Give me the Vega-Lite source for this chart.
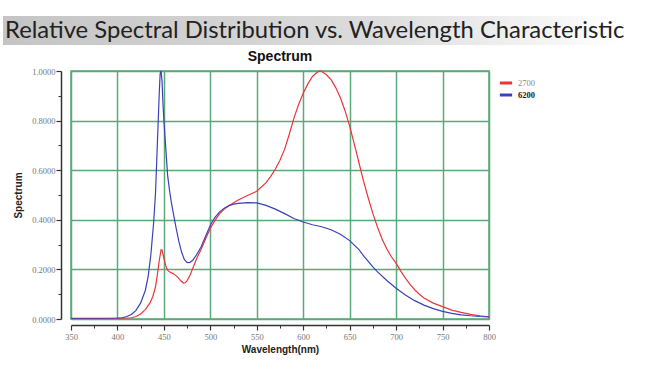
{
"$schema": "https://vega.github.io/schema/vega-lite/v6.json",
"background": "white",
"padding": {"left": 3, "top": 16, "right": 5, "bottom": 5},
"config": {"view": {"stroke": null}, "font": "Liberation Sans"},
"columns": 1,
"spacing": 4,
"resolve": {"scale": {"color": "independent"}, "legend": {"color": "independent"}},
"concat": [
{
 "width": 551, "height": 29,
 "view": {"stroke": null},
 "data": {"values": [{"t": "Relative Spectral Distribution vs. Wavelength Characteristic"}]},
 "layer": [
  {"mark": {"type": "rect", "color": {"gradient": "linear", "x1": 0, "x2": 1, "y1": 0, "y2": 0, "stops": [{"offset": 0, "color": "#c4c4c4"}, {"offset": 0.6, "color": "#dcdcdc"}, {"offset": 1, "color": "#ffffff"}]}},
   "encoding": {"x": {"datum": -0.12341, "type": "quantitative", "scale": {"domain": [0, 1]}, "axis": null}, "x2": {"datum": 1}}},
  {"mark": {"type": "text", "align": "left", "baseline": "middle", "font": "Lato", "fontSize": 23.8, "color": "#222222", "dx": 2},
   "encoding": {"x": {"datum": -0.12341, "type": "quantitative", "axis": null}, "text": {"field": "t"}}}
 ]
},
{
 "width": 418, "height": 248,
 "view": {"stroke": "#5aa97a", "strokeWidth": 1.5},
 "title": {"text": "Spectrum", "fontSize": 14, "fontWeight": "bold", "font": "Liberation Sans", "color": "#111111", "offset": 3, "anchor": "middle"},
 "data": {"values": [
{"w":350,"s":"2700","v":0.002},{"w":370,"s":"2700","v":0.002},{"w":390,"s":"2700","v":0.002},{"w":400,"s":"2700","v":0.003},{"w":405,"s":"2700","v":0.003},{"w":410,"s":"2700","v":0.004},{"w":415,"s":"2700","v":0.005},{"w":420,"s":"2700","v":0.01},{"w":425,"s":"2700","v":0.02},{"w":430,"s":"2700","v":0.038},{"w":435,"s":"2700","v":0.065},{"w":438,"s":"2700","v":0.09},{"w":441,"s":"2700","v":0.13},{"w":443,"s":"2700","v":0.18},{"w":445,"s":"2700","v":0.235},{"w":447,"s":"2700","v":0.28},{"w":448,"s":"2700","v":0.278},{"w":449,"s":"2700","v":0.262},{"w":450,"s":"2700","v":0.245},{"w":452,"s":"2700","v":0.215},{"w":454,"s":"2700","v":0.197},{"w":456,"s":"2700","v":0.19},{"w":458,"s":"2700","v":0.186},{"w":460,"s":"2700","v":0.183},{"w":462,"s":"2700","v":0.178},{"w":465,"s":"2700","v":0.168},{"w":468,"s":"2700","v":0.155},{"w":471,"s":"2700","v":0.145},{"w":473,"s":"2700","v":0.146},{"w":475,"s":"2700","v":0.155},{"w":478,"s":"2700","v":0.175},{"w":482,"s":"2700","v":0.213},{"w":486,"s":"2700","v":0.25},{"w":490,"s":"2700","v":0.28},{"w":495,"s":"2700","v":0.325},{"w":500,"s":"2700","v":0.365},{"w":505,"s":"2700","v":0.398},{"w":510,"s":"2700","v":0.425},{"w":515,"s":"2700","v":0.443},{"w":520,"s":"2700","v":0.457},{"w":530,"s":"2700","v":0.48},{"w":540,"s":"2700","v":0.498},{"w":550,"s":"2700","v":0.515},{"w":560,"s":"2700","v":0.55},{"w":565,"s":"2700","v":0.575},{"w":570,"s":"2700","v":0.605},{"w":575,"s":"2700","v":0.64},{"w":580,"s":"2700","v":0.685},{"w":585,"s":"2700","v":0.745},{"w":590,"s":"2700","v":0.81},{"w":595,"s":"2700","v":0.865},{"w":600,"s":"2700","v":0.91},{"w":605,"s":"2700","v":0.948},{"w":610,"s":"2700","v":0.978},{"w":615,"s":"2700","v":0.995},{"w":618,"s":"2700","v":1.0},{"w":620,"s":"2700","v":0.998},{"w":625,"s":"2700","v":0.985},{"w":630,"s":"2700","v":0.965},{"w":635,"s":"2700","v":0.933},{"w":640,"s":"2700","v":0.892},{"w":645,"s":"2700","v":0.84},{"w":650,"s":"2700","v":0.778},{"w":655,"s":"2700","v":0.705},{"w":660,"s":"2700","v":0.63},{"w":665,"s":"2700","v":0.555},{"w":670,"s":"2700","v":0.488},{"w":675,"s":"2700","v":0.425},{"w":680,"s":"2700","v":0.37},{"w":685,"s":"2700","v":0.322},{"w":690,"s":"2700","v":0.282},{"w":695,"s":"2700","v":0.25},{"w":700,"s":"2700","v":0.225},{"w":705,"s":"2700","v":0.193},{"w":710,"s":"2700","v":0.165},{"w":715,"s":"2700","v":0.14},{"w":720,"s":"2700","v":0.118},{"w":725,"s":"2700","v":0.1},{"w":730,"s":"2700","v":0.085},{"w":740,"s":"2700","v":0.064},{"w":750,"s":"2700","v":0.05},{"w":760,"s":"2700","v":0.036},{"w":770,"s":"2700","v":0.027},{"w":780,"s":"2700","v":0.019},{"w":790,"s":"2700","v":0.013},{"w":800,"s":"2700","v":0.009},
{"w":350,"s":"6200","v":0.003},{"w":370,"s":"6200","v":0.003},{"w":390,"s":"6200","v":0.003},{"w":400,"s":"6200","v":0.004},{"w":405,"s":"6200","v":0.005},{"w":410,"s":"6200","v":0.01},{"w":415,"s":"6200","v":0.018},{"w":420,"s":"6200","v":0.035},{"w":425,"s":"6200","v":0.065},{"w":430,"s":"6200","v":0.115},{"w":433,"s":"6200","v":0.17},{"w":436,"s":"6200","v":0.26},{"w":439,"s":"6200","v":0.39},{"w":441,"s":"6200","v":0.51},{"w":443,"s":"6200","v":0.71},{"w":445,"s":"6200","v":0.91},{"w":446,"s":"6200","v":0.99},{"w":447,"s":"6200","v":1.0},{"w":448,"s":"6200","v":0.96},{"w":449,"s":"6200","v":0.87},{"w":450,"s":"6200","v":0.8},{"w":452,"s":"6200","v":0.69},{"w":454,"s":"6200","v":0.58},{"w":456,"s":"6200","v":0.52},{"w":458,"s":"6200","v":0.47},{"w":460,"s":"6200","v":0.43},{"w":463,"s":"6200","v":0.37},{"w":466,"s":"6200","v":0.315},{"w":469,"s":"6200","v":0.27},{"w":472,"s":"6200","v":0.24},{"w":475,"s":"6200","v":0.227},{"w":478,"s":"6200","v":0.228},{"w":481,"s":"6200","v":0.237},{"w":485,"s":"6200","v":0.258},{"w":490,"s":"6200","v":0.29},{"w":495,"s":"6200","v":0.335},{"w":500,"s":"6200","v":0.378},{"w":505,"s":"6200","v":0.41},{"w":510,"s":"6200","v":0.432},{"w":515,"s":"6200","v":0.447},{"w":520,"s":"6200","v":0.457},{"w":525,"s":"6200","v":0.463},{"w":530,"s":"6200","v":0.466},{"w":540,"s":"6200","v":0.469},{"w":550,"s":"6200","v":0.468},{"w":560,"s":"6200","v":0.458},{"w":570,"s":"6200","v":0.443},{"w":580,"s":"6200","v":0.425},{"w":590,"s":"6200","v":0.405},{"w":600,"s":"6200","v":0.391},{"w":610,"s":"6200","v":0.38},{"w":620,"s":"6200","v":0.372},{"w":625,"s":"6200","v":0.366},{"w":630,"s":"6200","v":0.36},{"w":640,"s":"6200","v":0.342},{"w":650,"s":"6200","v":0.316},{"w":660,"s":"6200","v":0.28},{"w":665,"s":"6200","v":0.255},{"w":670,"s":"6200","v":0.232},{"w":675,"s":"6200","v":0.21},{"w":680,"s":"6200","v":0.19},{"w":690,"s":"6200","v":0.155},{"w":700,"s":"6200","v":0.124},{"w":710,"s":"6200","v":0.097},{"w":720,"s":"6200","v":0.074},{"w":730,"s":"6200","v":0.056},{"w":740,"s":"6200","v":0.042},{"w":750,"s":"6200","v":0.031},{"w":760,"s":"6200","v":0.023},{"w":770,"s":"6200","v":0.017},{"w":780,"s":"6200","v":0.013},{"w":790,"s":"6200","v":0.01},{"w":800,"s":"6200","v":0.008}
 ]},
 "layer": [
  {"mark": {"type": "line", "strokeWidth": 1.2},
   "encoding": {
    "x": {"field": "w", "type": "quantitative", "scale": {"domain": [350, 800], "nice": false, "zero": false},
      "axis": {"values": [350,400,450,500,550,600,650,700,750,800], "labelFlush": false, "grid": true, "gridColor": "#5aa97a", "gridWidth": 1.5, "gridOpacity": 1, "domainColor": "#333333", "domainWidth": 1.5, "offset": 6, "tickSize": 5, "tickColor": "#333333", "tickWidth": 1.2, "labelFont": "Liberation Serif", "labelFontSize": 8.5, "labelColor": "#777777", "labelPadding": 2, "title": "Wavelength(nm)", "titleFont": "Liberation Sans", "titleFontSize": 10, "titleFontWeight": "bold", "titleColor": "#222222", "titlePadding": 4}},
    "y": {"field": "v", "type": "quantitative", "scale": {"domain": [0, 1], "nice": false},
      "axis": {"values": [0,0.2,0.4,0.6,0.8,1], "format": ".4f", "labelFlush": false, "grid": true, "gridColor": "#5aa97a", "gridWidth": 1.5, "gridOpacity": 1, "domainColor": "#333333", "domainWidth": 1.5, "offset": 10, "tickSize": 5, "tickColor": "#333333", "tickWidth": 1.2, "labelFont": "Liberation Serif", "labelFontSize": 8.5, "labelColor": "#777777", "labelPadding": 1, "title": "Spectrum", "titleFont": "Liberation Sans", "titleFontSize": 10, "titleFontWeight": "bold", "titleColor": "#222222", "titlePadding": 8}},
    "color": {"field": "s", "type": "nominal", "scale": {"domain": ["2700", "6200"], "range": ["#e8363b", "#3a42b8"]},
      "legend": {"orient": "right", "offset": 0, "padding": 6, "title": null, "symbolType": "stroke", "symbolStrokeWidth": 3, "symbolSize": 150, "labelFont": "Liberation Serif", "labelFontSize": 8.5, "labelColor": {"expr": "datum.value === '6200' ? '#222222' : '#888888'"}, "labelFontWeight": {"expr": "datum.value === '6200' ? 'bold' : 'normal'"}, "clipHeight": 12, "rowPadding": 0, "labelOffset": 4}}
   }},
  {"mark": {"type": "line", "strokeOpacity": 0},
   "encoding": {
    "x": {"field": "w", "type": "quantitative", "axis": {"orient": "bottom", "values": [375,425,475,525,575,625,675,725,775], "labels": false, "grid": false, "domain": false, "offset": 6, "tickSize": 3, "tickColor": "#333333", "title": null}},
    "y": {"field": "v", "type": "quantitative", "axis": {"orient": "left", "values": [0.1,0.3,0.5,0.7,0.9], "labels": false, "grid": false, "domain": false, "offset": 10, "tickSize": 3, "tickColor": "#333333", "title": null}},
    "color": {"field": "s", "type": "nominal"}
   }}
 ],
 "resolve": {"axis": {"x": "independent", "y": "independent"}}
}
]
}
